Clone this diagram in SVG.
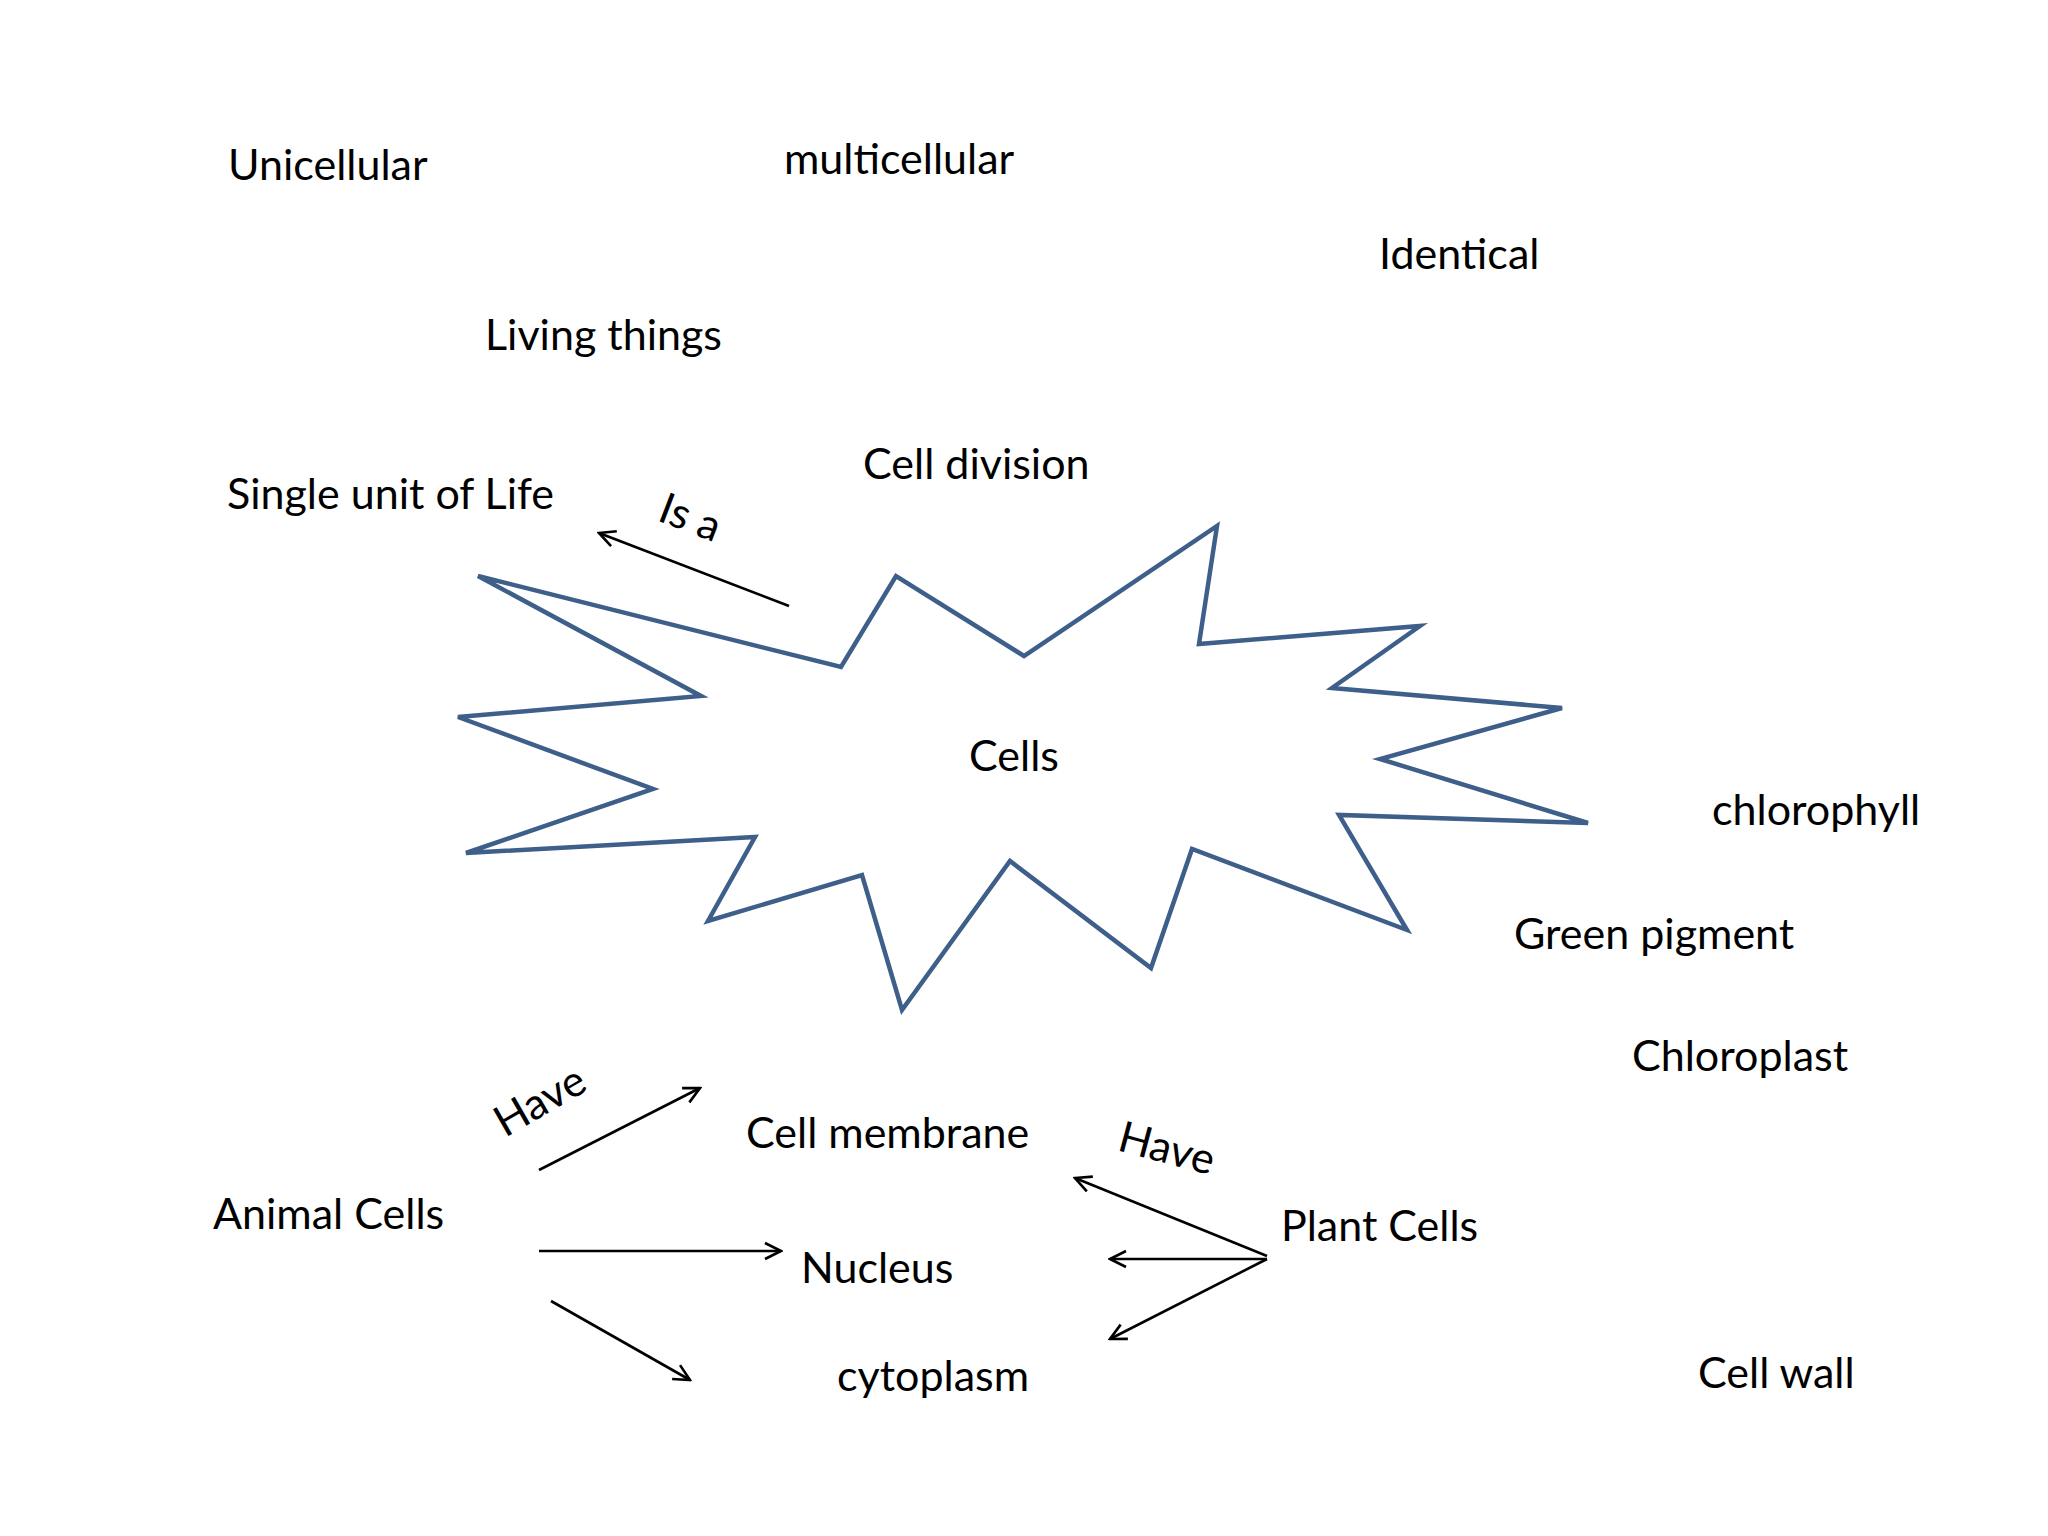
<svg xmlns="http://www.w3.org/2000/svg" width="2048" height="1536" viewBox="0 0 2048 1536">
<style>
text{font-family:Lato,"Noto Sans",sans-serif;font-size:43px;fill:#000}
.c{stroke:#000;stroke-width:2.6;fill:none;marker-end:url(#a)}
</style>
<defs><marker id="a" viewBox="0 0 20 20" refX="18" refY="10" markerWidth="20" markerHeight="20" markerUnits="userSpaceOnUse" orient="auto"><polyline points="2,2 18,10 2,18" fill="none" stroke="#000" stroke-width="2.6"/></marker></defs>
<rect width="2048" height="1536" fill="#fff"/>
<g id="cells"><polygon points="478,576 841,667 896,576 1024,656 1217,526 1199,644 1420,626 1332,688 1562,708 1380,759 1588,823 1339,815 1407,930 1192,849 1151,968 1010,861 902,1010 862,875 708,921 755,837 466,853 653,789 458,717 701,696" fill="#fff" stroke="#3e5f8a" stroke-width="4.5" stroke-linejoin="miter"/><text x="969" y="771">Cells</text></g>
<g id="unicellular"><text x="228" y="180">Unicellular</text></g>
<g id="multicellular"><text x="784" y="174">multicellular</text></g>
<g id="identical"><text x="1379" y="269">Identical</text></g>
<g id="living"><text x="485" y="350">Living things</text></g>
<g id="division"><text x="863" y="479">Cell division</text></g>
<g id="single"><text x="227" y="509">Single unit of Life</text></g>
<g id="chlorophyll"><text x="1712" y="825">chlorophyll</text></g>
<g id="green"><text x="1514" y="949">Green pigment</text></g>
<g id="chloroplast"><text x="1632" y="1071">Chloroplast</text></g>
<g id="membrane"><text x="746" y="1148">Cell membrane</text></g>
<g id="animal"><text x="213" y="1229">Animal Cells</text></g>
<g id="plant"><text x="1281" y="1241">Plant Cells</text></g>
<g id="nucleus"><text x="801" y="1283">Nucleus</text></g>
<g id="cytoplasm"><text x="837" y="1391">cytoplasm</text></g>
<g id="wall"><text x="1698" y="1388">Cell wall</text></g>
<g id="connectors">
<line class="c" x1="789" y1="606" x2="599" y2="533"/>
<line class="c" x1="539" y1="1170" x2="700" y2="1088"/>
<line class="c" x1="539" y1="1251" x2="781" y2="1251"/>
<line class="c" x1="551" y1="1301" x2="690" y2="1380"/>
<line class="c" x1="1267" y1="1256" x2="1075" y2="1178"/>
<line class="c" x1="1267" y1="1259" x2="1110" y2="1259"/>
<line class="c" x1="1267" y1="1259" x2="1110" y2="1339"/>
<text transform="translate(656,520) rotate(21)">Is a</text>
<text transform="translate(505,1138) rotate(-30)">Have</text>
<text transform="translate(1116,1150) rotate(15)">Have</text>
</g>
</svg>
